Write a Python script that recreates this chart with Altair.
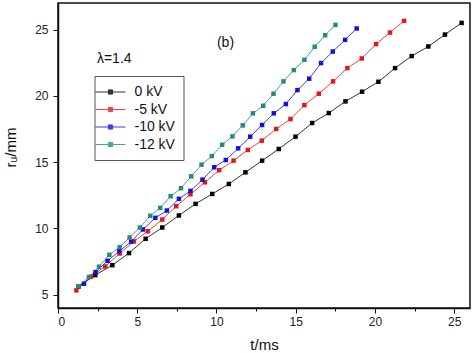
import altair as alt
import pandas as pd

series_names = ["0 kV", "-5 kV", "-10 kV", "-12 kV"]
series_colors = ["#000000", "#e8141c", "#1010e0", "#248a7c"]

t_0kv = [1.30, 2.35, 3.43, 4.48, 5.53, 6.58, 7.63, 8.68, 9.73, 10.78, 11.83, 12.88,
         13.93, 14.99, 16.04, 17.09, 18.14, 19.19, 20.22, 21.27, 22.32, 23.37, 24.42, 25.47]
r_0kv = [5.62, 6.48, 7.23, 8.14, 9.22, 10.07, 10.98, 11.85, 12.60, 13.35, 14.23, 15.11,
         15.99, 16.92, 17.95, 18.70, 19.58, 20.31, 21.06, 22.09, 23.00, 23.72, 24.62, 25.50]

t_5kv = [1.16, 2.08, 2.98, 3.89, 4.79, 5.67, 6.58, 7.46, 8.36, 9.27, 10.17, 11.08,
         11.98, 12.86, 13.77, 14.67, 15.55, 16.46, 17.36, 18.26, 19.17, 20.07, 20.95, 21.84]
r_5kv = [5.33, 6.36, 7.13, 8.11, 9.02, 9.79, 10.67, 11.67, 12.58, 13.48, 14.39, 15.11,
         15.92, 16.62, 17.50, 18.25, 19.30, 20.16, 21.09, 22.09, 22.82, 23.90, 24.77, 25.65]

t_10kv = [1.64, 2.37, 3.13, 3.87, 4.62, 5.36, 6.14, 6.87, 7.63, 8.36, 9.12, 9.86,
          10.59, 11.37, 12.13, 12.88, 13.62, 14.38, 15.11, 15.85, 16.60, 17.34, 18.12, 18.85]
r_10kv = [5.83, 6.71, 7.56, 8.29, 9.01, 9.92, 10.80, 11.35, 12.23, 12.83, 13.68, 14.61,
          15.16, 16.04, 16.92, 17.80, 18.68, 19.38, 20.43, 21.29, 22.47, 23.34, 24.22, 25.08]

t_12kv = [1.30, 1.95, 2.59, 3.24, 3.89, 4.52, 5.17, 5.82, 6.45, 7.11, 7.76, 8.41, 9.06,
          9.71, 10.36, 11.01, 11.66, 12.30, 12.95, 13.60, 14.23, 14.88, 15.55, 16.20, 16.86, 17.51]
r_12kv = [5.65, 6.33, 7.11, 8.01, 8.59, 9.32, 10.07, 10.95, 11.55, 12.43, 13.03, 13.93, 14.81,
          15.46, 16.31, 16.94, 17.77, 18.68, 19.25, 20.16, 21.09, 21.94, 22.72, 23.70, 24.57, 25.35]

x_ticks = [0, 2.5, 5, 7.5, 10, 12.5, 15, 17.5, 20, 22.5, 25]
y_ticks = [5, 7.5, 10, 12.5, 15, 17.5, 20, 22.5, 25]

ann_text = ["λ=1.4", "(b)"]
ann_t = [3.55, 10.57]
ann_r = [22.8, 24.0]

rows = []
for name, ts, rs in zip(series_names, [t_0kv, t_5kv, t_10kv, t_12kv],
                        [r_0kv, r_5kv, r_10kv, r_12kv]):
    for i, (t, r) in enumerate(zip(ts, rs)):
        rows.append({"series": name, "t": t, "r": r, "i": i})
df = pd.DataFrame(rows)
ann = pd.DataFrame({"text": ann_text, "t": ann_t, "r": ann_r})

FONT = "Liberation Sans"

x_enc = alt.X("t:Q", scale=alt.Scale(domain=[0, 26], nice=False),
              axis=alt.Axis(title="t/ms", values=x_ticks, grid=False,
                            labelExpr="datum.value % 5 === 0 ? datum.label : ''",
                            tickSize={"condition": {"test": "datum.value % 5 === 0", "value": 5}, "value": 3},
                            labelPadding=3,
                            titleY=29, titleFontSize=15, titleFontWeight="normal"))
y_enc = alt.Y("r:Q", scale=alt.Scale(domain=[4, 27], nice=False),
              axis=alt.Axis(title="rᵤ/mm", values=y_ticks, grid=False,
                            labelExpr="datum.value % 5 === 0 ? datum.label : ''",
                            tickSize={"condition": {"test": "datum.value % 5 === 0", "value": 5}, "value": 3},
                            labelPadding=5,
                            titleX=-40, titleY=144, titleFontSize=15, titleFontWeight="normal"))

legend = alt.Legend(
    title=None, orient="none", legendX=36.5, legendY=73,
    symbolType="M-2,0H2M-0.28,-0.28H0.28V0.28H-0.28Z",
    symbolSize=225, symbolStrokeWidth=1,
    labelFontSize=14, labelFont=FONT, labelColor="#111",
    labelOffset=16, rowPadding=2.5,
    padding=8, strokeColor="#555", fillColor="white")

color_enc = alt.Color("series:N",
                      scale=alt.Scale(domain=series_names, range=series_colors),
                      legend=legend)

lines = alt.Chart(df).mark_line(strokeWidth=1, opacity=0.8).encode(
    x=x_enc, y=y_enc, color=color_enc, detail="series:N", order="i:Q")
points = alt.Chart(df).mark_point(shape="square", filled=True, size=20, opacity=1).encode(
    x="t:Q", y="r:Q", color=color_enc)
texts = alt.Chart(ann).mark_text(fontSize=14, font=FONT, color="#111").encode(
    x="t:Q", y="r:Q", text="text:N")

chart = alt.layer(lines, points, texts).properties(
    width=412, height=305,
    autosize=alt.AutoSizeParams(type="none"),
    padding={"left": 58, "top": 3, "right": 4, "bottom": 45},
).configure_view(stroke="#111", strokeWidth=1.5).configure_axis(
    domainColor="#111", domainWidth=1.5, tickColor="#111", tickWidth=1,
    labelFont=FONT, labelFontSize=12, labelColor="#222",
    titleFont=FONT, titleColor="#111")

chart.save("out.html", embed_options={"renderer": "svg", "actions": False})
